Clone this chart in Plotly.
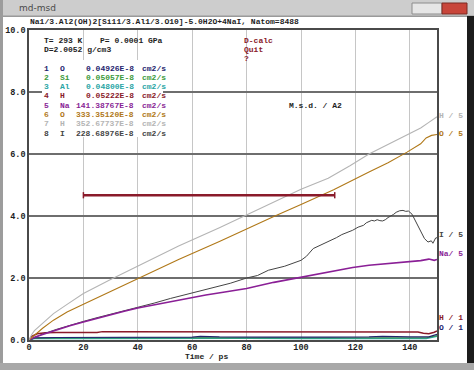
import plotly.graph_objects as go

# ---------------- data ----------------
t_h5 = [0, 1, 2, 5, 9, 14, 20, 30, 40, 55, 70, 80, 90, 100, 110, 118, 125, 132, 140, 144, 147, 150]
v_h5 = [0, 0.18, 0.3, 0.55, 0.85, 1.15, 1.50, 1.95, 2.38, 3.03, 3.62, 4.04, 4.45, 4.86, 5.22, 5.62, 6.0, 6.3, 6.66, 6.84, 7.02, 7.2]

t_o5 = [0, 1, 2, 5, 9, 14, 20, 30, 40, 55, 70, 80, 90, 100, 112, 125, 132, 139, 144, 146, 148, 150]
v_o5 = [0, 0.08, 0.15, 0.38, 0.64, 0.9, 1.15, 1.57, 1.98, 2.6, 3.18, 3.59, 3.98, 4.37, 4.85, 5.42, 5.72, 6.06, 6.33, 6.52, 6.6, 6.63]

t_na5 = [0, 2, 5, 10, 15, 20, 25, 30, 35, 40, 47, 55, 65, 72, 80, 90, 100, 107, 113, 119, 125, 131, 136, 140, 144, 147, 149, 150]
v_na5 = [0, 0.09, 0.18, 0.33, 0.46, 0.58, 0.7, 0.82, 0.93, 1.03, 1.15, 1.27, 1.45, 1.55, 1.66, 1.86, 2.03, 2.16, 2.26, 2.34, 2.41, 2.46, 2.49, 2.52, 2.56, 2.61, 2.57, 2.6]

t_i5 = [0, 2, 5, 10, 15, 20, 25, 30, 35, 40, 46, 52, 60, 68, 74, 80, 84, 88, 94, 100, 102, 104.5, 107, 109, 111, 113, 115, 117, 119, 121, 123, 124, 126, 127, 128, 129, 130, 131, 132, 134, 135, 136.3, 137.5, 138.5, 139.5, 140.8, 142, 143.6, 145.4, 146.7, 147.9, 148.5, 149.5, 150]
v_i5 = [0, 0.08, 0.19, 0.34, 0.48, 0.6, 0.72, 0.83, 0.94, 1.04, 1.19, 1.34, 1.52, 1.71, 1.83, 2.0, 2.08, 2.25, 2.38, 2.57, 2.7, 2.95, 3.05, 3.12, 3.22, 3.3, 3.4, 3.46, 3.54, 3.64, 3.7, 3.78, 3.86, 3.84, 3.88, 3.85, 3.84, 3.88, 3.95, 4.05, 4.12, 4.17, 4.18, 4.15, 4.16, 4.06, 3.85, 3.54, 3.27, 3.16, 3.2, 3.12, 3.29, 3.3]

t_h1 = [0, 1, 3, 6, 10, 25, 27, 45, 60, 80, 95, 100, 110, 120, 130, 140, 143, 145, 147, 149, 150]
v_h1 = [0, 0.12, 0.2, 0.23, 0.24, 0.24, 0.27, 0.27, 0.27, 0.26, 0.25, 0.25, 0.26, 0.26, 0.27, 0.27, 0.26, 0.22, 0.2, 0.25, 0.29]

t_o1 = [0, 2, 10, 25, 40, 60, 63, 70, 90, 100, 110, 125, 130, 140, 145, 147, 150]
v_o1 = [0, 0.07, 0.08, 0.09, 0.09, 0.09, 0.12, 0.1, 0.09, 0.1, 0.09, 0.1, 0.12, 0.1, 0.09, 0.1, 0.18]

t_si = [0, 2, 20, 40, 60, 80, 100, 120, 140, 146, 150]
v_si = [0, 0.06, 0.07, 0.07, 0.08, 0.07, 0.07, 0.08, 0.08, 0.07, 0.14]

t_al = [0, 2, 20, 40, 60, 80, 100, 120, 140, 146, 150]
v_al = [0, 0.05, 0.05, 0.06, 0.05, 0.06, 0.05, 0.06, 0.06, 0.05, 0.12]

bar_x = [20, 112.4]
bar_y = 4.67
bar_cap = 0.1

x_ticks = [0, 20, 40, 60, 80, 100, 120, 140]
y_ticks = [0, 2, 4, 6, 8, 10]
y_tick_text = ["0.0", "2.0", "4.0", "6.0", "8.0", "10.0"]

species_no = ["1", "2", "3", "4", "5", "6", "7", "8"]
species_el = ["O", "Si", "Al", "H", "Na", "O", "H", "I"]
species_d = ["0.04926E-8", "0.05057E-8", "0.04800E-8", "0.05222E-8",
             "141.38767E-8", "333.35120E-8", "352.67737E-8", "228.68976E-8"]

title_text = "Na1/3.Al2(OH)2[Si11/3.Al1/3.O10]-5.0H2O+4NaI, Natom=8488"

# ---------------- styling ----------------
C_O1 = "#24246e"
C_SI = "#3c9a3c"
C_AL = "#2aa5a5"
C_H1 = "#8a1a2a"
C_NA = "#8a1f96"
C_O5 = "#b07818"
C_H5 = "#b4b4b4"
C_I5 = "#444444"
species_col = [C_O1, C_SI, C_AL, C_H1, C_NA, C_O5, C_H5, C_I5]
TXT = "#1e1e1e"
MONO = "Liberation Mono"

W_FIG, H_FIG = 474, 370
L, R, T, B = 29, 437, 30, 340


def px(x):
    return (x - L) / (R - L)


def py(y):
    return (B - y) / (B - T)


fig = go.Figure()

def line(tx, vy, col, w):
    fig.add_trace(go.Scatter(x=tx, y=vy, mode="lines", line=dict(color=col, width=w),
                             hoverinfo="skip", showlegend=False))

line(t_al, v_al, C_AL, 1.6)
line(t_si, v_si, C_SI, 1.0)
line(t_o1, v_o1, C_O1, 1.2)
line(t_h1, v_h1, C_H1, 1.5)
line(t_i5, v_i5, C_I5, 1.0)
line(t_na5, v_na5, C_NA, 1.6)
line(t_o5, v_o5, C_O5, 1.1)
line(t_h5, v_h5, C_H5, 1.1)

# horizontal bar with end caps
fig.add_trace(go.Scatter(x=bar_x, y=[bar_y, bar_y], mode="lines",
                         line=dict(color=C_H1, width=2.5), hoverinfo="skip", showlegend=False))
fig.add_trace(go.Scatter(x=[bar_x[0], bar_x[0], None, bar_x[1], bar_x[1]],
                         y=[bar_y - bar_cap, bar_y + bar_cap, None, bar_y - bar_cap, bar_y + bar_cap],
                         mode="lines", line=dict(color=C_H1, width=1.5),
                         hoverinfo="skip", showlegend=False))

shapes = []
# white box behind the species list
shapes.append(dict(type="rect", xref="paper", yref="paper", layer="above",
                   x0=px(42), x1=px(163), y0=py(137), y1=py(60),
                   fillcolor="white", line=dict(width=0)))
# window chrome
shapes.append(dict(type="rect", xref="paper", yref="paper", layer="above",
                   x0=px(0), x1=px(474), y0=py(16), y1=py(0),
                   fillcolor="#cdcdcd", line=dict(width=0)))
shapes.append(dict(type="rect", xref="paper", yref="paper", layer="above",
                   x0=px(0), x1=px(474), y0=py(17), y1=py(15.5),
                   fillcolor="#9a9a9a", line=dict(width=0)))
shapes.append(dict(type="rect", xref="paper", yref="paper", layer="above",
                   x0=px(412), x1=px(442), y0=py(14), y1=py(3),
                   fillcolor="#e6e6e6", line=dict(width=1, color="#8c8c8c")))
shapes.append(dict(type="rect", xref="paper", yref="paper", layer="above",
                   x0=px(442), x1=px(467), y0=py(14), y1=py(3),
                   fillcolor="#c8453a", line=dict(width=1, color="#7a2a22")))
shapes.append(dict(type="rect", xref="paper", yref="paper", layer="above",
                   x0=px(0), x1=px(3), y0=py(370), y1=py(0),
                   fillcolor="#9c9c9c", line=dict(width=0)))
shapes.append(dict(type="rect", xref="paper", yref="paper", layer="above",
                   x0=px(467), x1=px(474), y0=py(370), y1=py(16),
                   fillcolor="#1c1c1c", line=dict(width=0)))
shapes.append(dict(type="rect", xref="paper", yref="paper", layer="above",
                   x0=px(0), x1=px(474), y0=py(370), y1=py(363),
                   fillcolor="#a8a8a8", line=dict(width=0)))

ann = []

def text(x, y, s, col=TXT, anchor="left", size=8, family=MONO, bold=True):
    ann.append(dict(x=px(x), y=py(y), xref="paper", yref="paper", text=s,
                    showarrow=False, xanchor=anchor, yanchor="middle",
                    font=dict(family=family, size=size, color=col,
                              weight="bold" if bold else "normal")))

text(17, 8, "md-msd", col="#4a4a4a", size=9, family="DejaVu Sans", bold=False)
text(28, 22, title_text)
text(42, 40.3, "T= 293 K")
text(97.7, 40.3, "P= 0.0001 GPa")
text(42, 49.3, "D=2.0052 g/cm3")
for i in range(8):
    yy = 68 + i * 9.33
    c = species_col[i]
    text(46.4, yy, species_no[i], col=c, anchor="center")
    text(58.4, yy, species_el[i], col=c)
    text(136, yy, species_d[i], col=c, anchor="right")
    text(140, yy, "cm2/s", col=c)

text(242, 40.3, "D-calc", col=C_H1)
text(242, 49.3, "Quit", col=C_H1)
text(242, 58.3, "?", col=C_H1)
text(286.5, 105.7, "M.s.d. / A2")

text(437, 115, "H / 5", col=C_H5)
text(437, 133, "O / 5", col=C_O5)
text(437, 234, "I / 5", col=C_I5)
text(437, 253.3, "Na/ 5", col=C_NA)
text(437, 317.7, "H / 1", col=C_H1)
text(437, 327.7, "O / 1", col=C_O1)

text(206, 356.5, "Time / ps", anchor="center")

fig.update_layout(
    width=W_FIG, height=H_FIG,
    margin=dict(l=L, r=W_FIG - R, t=T, b=H_FIG - B, autoexpand=False),
    paper_bgcolor="white", plot_bgcolor="white",
    shapes=shapes, annotations=ann, showlegend=False,
    xaxis=dict(range=[0, 150], tickvals=x_ticks, showgrid=True, gridcolor="#c6c6c6",
               gridwidth=1, zeroline=False, showline=True, linecolor="#4a4a4a", linewidth=1.5,
               mirror=True, ticks="", automargin=False, ticklabelstandoff=-2,
               tickfont=dict(family=MONO, size=8.5, color=TXT, weight="bold")),
    yaxis=dict(range=[0, 10], tickvals=y_ticks, ticktext=y_tick_text, showgrid=True,
               gridcolor="#6e6e6e", gridwidth=1.5, zeroline=False, showline=True,
               linecolor="#4a4a4a", linewidth=1.5, mirror=True, ticks="", automargin=False,
               tickfont=dict(family=MONO, size=8.5, color=TXT, weight="bold")),
)

fig.write_html("out.html")
